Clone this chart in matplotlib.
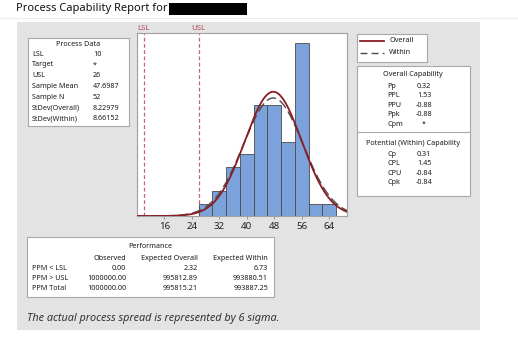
import numpy as np
import matplotlib
matplotlib.use("Agg")
import matplotlib.pyplot as plt
from matplotlib.patches import Rectangle

# ---- data ----
bin_edges = [26, 30, 34, 38, 42, 46, 50, 54, 58, 62, 66]
bin_counts = [1, 2, 4, 5, 9, 9, 6, 14, 1, 1]
tick_values = [16, 24, 32, 40, 48, 56, 64]

lsl = 10
usl = 26
sample_mean = 47.6987
sample_n = 52
sd_overall = 8.22979
sd_within = 8.66152

process_labels = ["LSL", "Target", "USL", "Sample Mean", "Sample N",
                  "StDev(Overall)", "StDev(Within)"]
process_values = ["10", "*", "26", "47.6987", "52", "8.22979", "8.66152"]

overall_labels = ["Pp", "PPL", "PPU", "Ppk", "Cpm"]
overall_values = ["0.32", "1.53", "-0.88", "-0.88", "*"]
within_labels = ["Cp", "CPL", "CPU", "Cpk"]
within_values = ["0.31", "1.45", "-0.84", "-0.84"]

perf_cols = ["Observed", "Expected Overall", "Expected Within"]
perf_rows = ["PPM < LSL", "PPM > USL", "PPM Total"]
perf_observed = ["0.00", "1000000.00", "1000000.00"]
perf_exp_overall = ["2.32", "995812.89", "995815.21"]
perf_exp_within = ["6.73", "993880.51", "993887.25"]

# ---- figure ----
W, H = 518, 339
plt.rcParams['font.family'] = ['Noto Sans', 'DejaVu Sans']
fig = plt.figure(figsize=(W / 100, H / 100), dpi=100)
fig.patch.set_facecolor("white")


def fx(x):
    return x / W


def fy(y):
    return 1 - y / H


def box(x0, y0, x1, y1, fc="white", ec="#a8a8a8", lw=0.8, z=1):
    fig.patches.append(Rectangle((fx(x0), fy(y1)), fx(x1) - fx(x0), fy(y0) - fy(y1),
                                 transform=fig.transFigure, facecolor=fc,
                                 edgecolor=ec, linewidth=lw, zorder=z))


def txt(x, y, s, size=5.2, ha="left", **kw):
    fig.text(fx(x), fy(y), s, fontsize=size, ha=ha, va="center",
             color=kw.pop("color", "#1a1a1a"), zorder=5, **kw)


# title
txt(16, 8, "Process Capability Report for", size=8.0, color="#111111")
box(169, 3, 247, 15, fc="black", ec="black", lw=0, z=6)
# separator under title
fig.add_artist(plt.Line2D([fx(0), fx(W)], [fy(18), fy(18)], color="#ececec", lw=0.8,
                          zorder=-2))

# gray panel
box(17, 22, 480, 330, fc="#e3e3e3", ec="#e3e3e3", lw=0, z=-1)

# ---- histogram axes ----
ax = fig.add_axes([fx(137), fy(216), fx(347) - fx(137), fy(33) - fy(216)])
ax.set_zorder(3)
ax.set_facecolor("white")
widths = np.diff(bin_edges)
ax.bar(bin_edges[:-1], bin_counts, width=widths, align="edge",
       color="#7ba2da", edgecolor="#4a4a4a", linewidth=0.6, zorder=2)

x = np.linspace(8.06, 69.15, 500)
bw = widths[0]


def normal_curve(mu, sd):
    return sample_n * bw * np.exp(-0.5 * ((x - mu) / sd) ** 2) / (sd * np.sqrt(2 * np.pi))


ax.plot(x, normal_curve(sample_mean, sd_within), color="#4a4a4a", lw=1.0,
        ls=(0, (7, 3)), zorder=3)
ax.plot(x, normal_curve(sample_mean, sd_overall), color="#8b1d24", lw=1.3, zorder=4)

for v, name in [(lsl, "LSL"), (usl, "USL")]:
    ax.axvline(v, color="#c8606c", lw=0.9, ls=(0, (3, 2)), zorder=1)
    ax.text(v, 1.005, name, transform=ax.get_xaxis_transform(), ha="center",
            va="bottom", fontsize=5.6, color="#b04858", fontweight="bold")

ax.set_xlim(8.06, 69.15)
ax.set_ylim(0, 14.85)
ax.set_xticks(tick_values)
ax.set_xticklabels([str(t) for t in tick_values])
ax.set_yticks([])
ax.tick_params(axis="x", length=2.5, width=0.6, color="#888888",
               labelsize=7.0, labelcolor="#222222", pad=2)
for s in ax.spines.values():
    s.set_color("#a0a0a0")
    s.set_linewidth(0.8)

# ---- process data box ----
box(28, 38, 129, 126)
txt(78, 44, "Process Data", ha="center")
for i, (lab, val) in enumerate(zip(process_labels, process_values)):
    yy = 54 + i * 10.8
    txt(32, yy, lab)
    txt(93, yy, val)

# ---- legend box ----
box(357, 34, 427, 62)
fig.add_artist(plt.Line2D([fx(360), fx(384)], [fy(41), fy(41)], color="#8b1d24", lw=1.3,
                          zorder=5))
fig.add_artist(plt.Line2D([fx(360), fx(384)], [fy(53), fy(53)], color="#4a4a4a", lw=1.0,
                          ls=(0, (5, 3)), zorder=5))
txt(389, 41, "Overall")
txt(389, 53, "Within")

# ---- capability box ----
box(357, 66, 470, 196)
fig.add_artist(plt.Line2D([fx(357), fx(470)], [fy(132), fy(132)], color="#a8a8a8", lw=0.8,
                          zorder=5))
txt(413, 75, "Overall Capability", ha="center")
for i, (lab, val) in enumerate(zip(overall_labels, overall_values)):
    yy = 86 + i * 9.6
    txt(387, yy, lab)
    txt(424, yy, val, ha="center")
txt(413, 143, "Potential (Within) Capability", ha="center")
for i, (lab, val) in enumerate(zip(within_labels, within_values)):
    yy = 154 + i * 9.6
    txt(387, yy, lab)
    txt(424, yy, val, ha="center")

# ---- performance box ----
box(27, 237, 274, 297)
txt(150, 247, "Performance", ha="center")
for xr, c in zip([126, 198, 268], perf_cols):
    txt(xr, 258, c, ha="right")
for i, lab in enumerate(perf_rows):
    yy = 269 + i * 10
    txt(32, yy, lab)
    txt(126, yy, perf_observed[i], ha="right")
    txt(198, yy, perf_exp_overall[i], ha="right")
    txt(268, yy, perf_exp_within[i], ha="right")

# footer note
txt(27, 318, "The actual process spread is represented by 6 sigma.", size=7.8,
    style="italic", color="#333333")

fig.savefig("out.png", dpi=100, facecolor="white")
